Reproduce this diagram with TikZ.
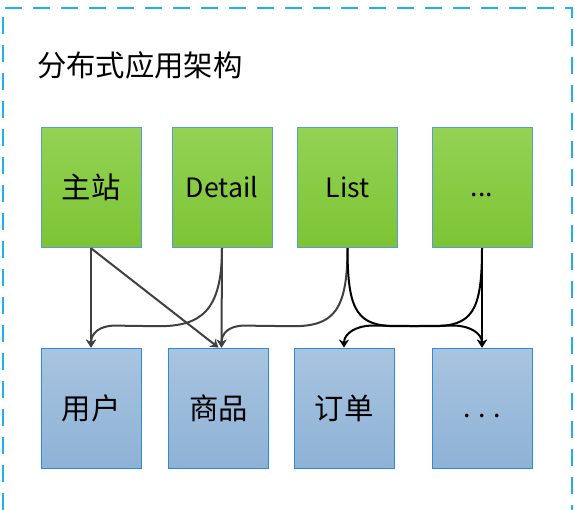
\documentclass[tikz,border=0pt]{standalone}
\usepackage{fontspec}
\setmainfont{Noto Sans CJK SC}
\usetikzlibrary{arrows.meta,calc}
\definecolor{frameblue}{RGB}{30,176,240}
\definecolor{gtop}{RGB}{148,210,84}
\definecolor{gbot}{RGB}{124,196,52}
\definecolor{gedge}{RGB}{91,155,213}
\definecolor{btop}{RGB}{168,196,224}
\definecolor{bbot}{RGB}{142,178,214}
\definecolor{bedge}{RGB}{46,140,210}
\definecolor{conngray}{RGB}{64,64,64}
\tikzset{
  svc/.style={draw=gedge, line width=0.6pt, top color=gtop, bottom color=gbot,
    minimum width=75pt, minimum height=90.5pt, inner sep=0pt, font=\fontsize{20}{24}\selectfont},
  dat/.style={draw=bedge, line width=0.6pt, top color=btop, bottom color=bbot,
    minimum width=75pt, minimum height=90pt, inner sep=0pt, font=\fontsize{20}{24}\selectfont},
  cjk/.style={font=\fontsize{22}{26}\selectfont},
  conn/.style={draw=conngray, line width=1.5pt, -{Stealth[length=6pt,width=7.5pt]}},
  connb/.style={draw=black, line width=1.5pt, -{Stealth[length=6pt,width=7.5pt]}},
}
\begin{document}
\begin{tikzpicture}[x=0.75pt,y=-0.75pt]
\useasboundingbox (0,0) rectangle (575,510);
\draw[frameblue, line width=2pt, dash pattern=on 13pt off 8pt]
  (3,510) -- (3,8) -- (572,8) -- (572,510);
\node[anchor=west, inner sep=0pt, font=\fontsize{22}{26}\selectfont] (title) at (37,65) {分布式应用架构};

\node[svc,cjk] (zz) at (91,187.5) {主站};
\node[svc] (dt) at (222,187.5) {Detail};
\node[svc] (ls) at (347.5,187.5) {List};
\node[svc] (et) at (482,187.5) {\vphantom{用}...};

\node[dat,cjk] (yh) at (91,408) {用户};
\node[dat,cjk] (sp) at (218.5,408) {商品};
\node[dat,cjk] (dd) at (344,408) {订单};
\node[dat] (ed) at (482,408) {\vphantom{用}.\hspace{5.5pt}.\hspace{5.5pt}.};

% grey connectors
\draw[conn] (zz.south) -- (yh.north);
\draw[conn] (zz.south) -- (sp.north);
\draw[conn] (dt.south) -- ($(sp.north)+(3,0)$);
\draw[conn] (dt.south) .. controls +(0,64) and +(42,0) .. ($(dt.south)+(-64,78)$)
  -- ($(yh.north)+(24,-22)$) .. controls +(-16,0) and +(0,-14) .. (yh.north);
\draw[conn] (ls.south) .. controls +(0,64) and +(40,0) .. ($(ls.south)+(-55,78)$)
  -- ($(sp.north)+(26,-22)$) .. controls +(-16,0) and +(0,-14) .. ($(sp.north)+(3,0)$);
% black connectors
\draw[connb] (et.south) -- (ed.north);
\draw[connb] (ls.south) .. controls +(0,64) and +(-40,0) .. ($(ls.south)+(50,78)$)
  -- ($(ed.north)+(-28,-22)$) .. controls +(16,0) and +(0,-14) .. (ed.north);
\draw[connb] (et.south) .. controls +(0,64) and +(40,0) .. ($(et.south)+(-50,78)$)
  -- ($(dd.north)+(28,-22)$) .. controls +(-16,0) and +(0,-14) .. (dd.north);
\end{tikzpicture}
\end{document}
